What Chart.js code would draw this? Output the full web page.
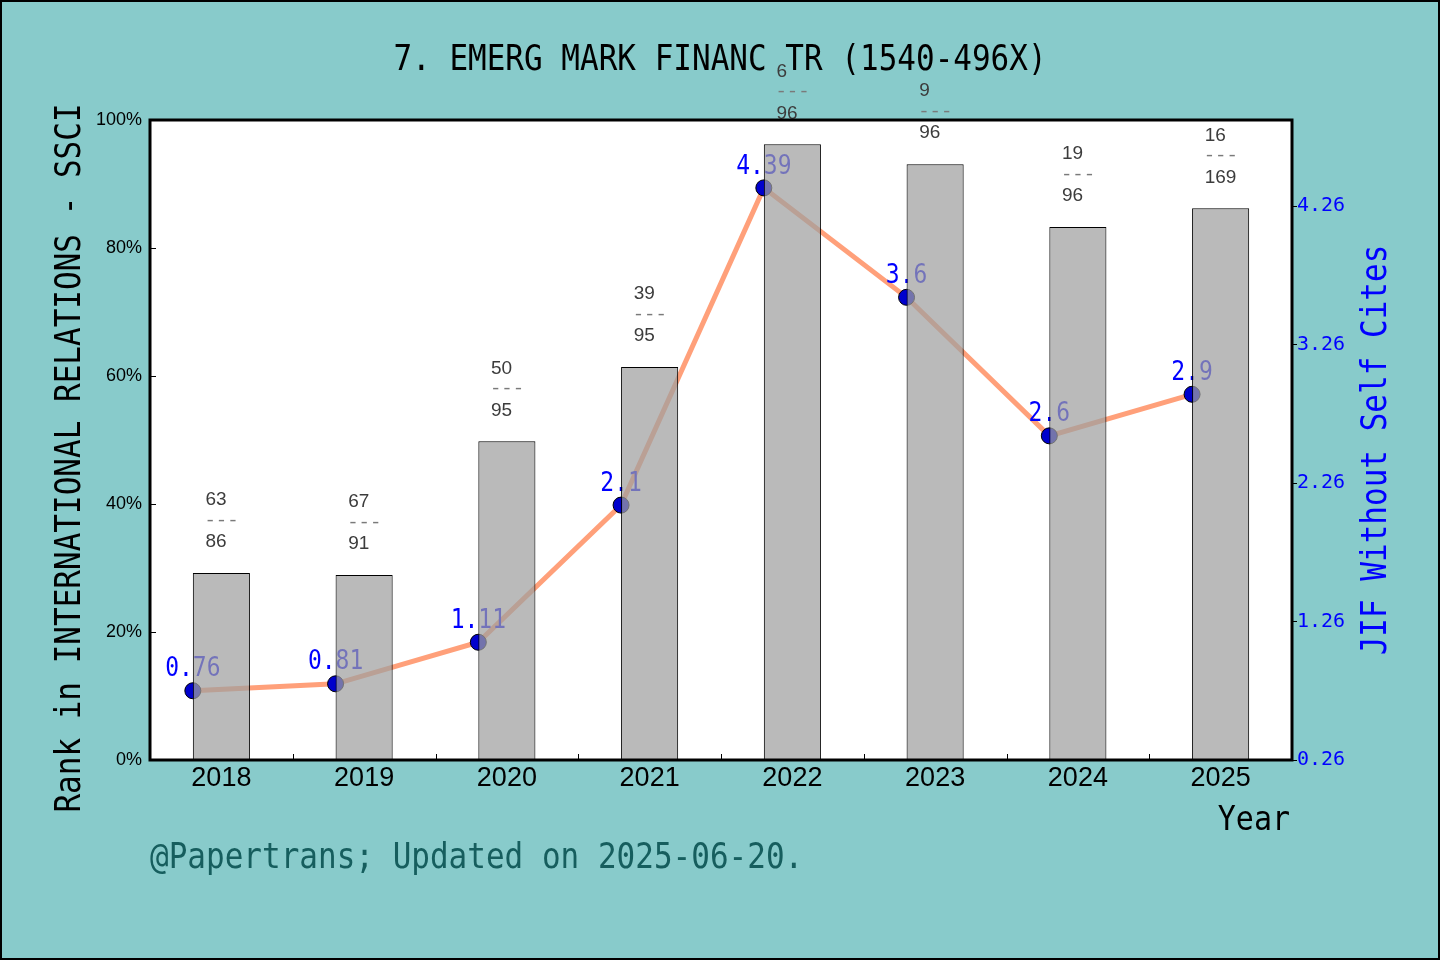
<!DOCTYPE html>
<html><head><meta charset="utf-8">
<script src="https://cdn.jsdelivr.net/npm/chart.js@4.4.1/dist/chart.umd.min.js"></script>
<style>html,body{margin:0;padding:0;background:#88cbcb;}canvas{display:block;}</style>
</head><body>
<canvas id="c" width="1440" height="960"></canvas>
<script>
// ---- data ----
const years = ['2018','2019','2020','2021','2022','2023','2024','2025'];
const rankPercent = [29.2, 28.9, 49.8, 61.4, 96.2, 93.1, 83.3, 86.2];
const rankPos = ['63','67','50','39','6','9','19','16'];
const rankTotal = ['86','91','95','95','96','96','96','169'];
const jifValues = [0.76, 0.81, 1.11, 2.1, 4.39, 3.6, 2.6, 2.9];
const jifLabels = ['0.76','0.81','1.11','2.1','4.39','3.6','2.6','2.9'];
const leftTicks = [0, 20, 40, 60, 80, 100];
const rightTicks = [0.26, 1.26, 2.26, 3.26, 4.26];
const rightRange = [0.26, 4.88];

const TITLE = '7. EMERG MARK FINANC TR (1540-496X)';
const Y_TITLE = 'Rank in INTERNATIONAL RELATIONS - SSCI';
const Y2_TITLE = 'JIF Without Self Cites';
const X_TITLE = 'Year';
const NOTE = '@Papertrans; Updated on 2025-06-20.';

const BG = '#88cbcb';
const BAR_W = 0.4;               // bar width as fraction of category
const LINE_SHIFT = -BAR_W / 2;   // line points sit at bar left edge
const MONO = '"DejaVu Sans Mono"';

function mtext(ctx, s, x, y, o) {
  const size = o.size, sy = o.sy || 1.15;
  ctx.save();
  ctx.translate(x, y);
  if (o.rot) ctx.rotate(o.rot);
  ctx.scale(1, sy);
  ctx.font = size + 'px ' + (o.family || MONO);
  ctx.fillStyle = o.color || '#000';
  ctx.textAlign = o.align || 'center';
  ctx.textBaseline = 'alphabetic';
  ctx.fillText(s, 0, 0.365 * size);
  ctx.restore();
}

const deco = {
  id: 'deco',
  beforeDraw(chart) {
    const {ctx, chartArea: a} = chart;
    ctx.save();
    ctx.fillStyle = BG;
    ctx.fillRect(0, 0, chart.width, chart.height);
    ctx.fillStyle = '#fff';
    ctx.fillRect(a.left, a.top, a.right - a.left, a.bottom - a.top);
    ctx.restore();
  },
  afterDatasetDraw(chart, args) {
    if (args.meta.type !== 'line') return;
    const ctx = chart.ctx;
    args.meta.data.forEach((pt, i) => {
      mtext(ctx, jifLabels[i], pt.x, pt.y - 24, {size: 23, color: '#0000ff'});
    });
  },
  afterDatasetsDraw(chart) {
    const ctx = chart.ctx;
    const meta = chart.getDatasetMeta(0);
    meta.data.forEach((bar, i) => {
      const lx = bar.x - 16, top = bar.y;
      ctx.save();
      ctx.font = '19px "Liberation Sans"';
      ctx.fillStyle = '#3c3c3c';
      ctx.textAlign = 'left';
      ctx.textBaseline = 'middle';
      ctx.fillText(rankPos[i], lx, top - 73);
      ctx.fillText(rankTotal[i], lx, top - 31);
      ctx.restore();
      mtext(ctx, '---', lx - 1, top - 54, {size: 19, color: '#7a7a7a', align: 'left', sy: 1, family: '"Liberation Mono"'});
    });
  },
  afterDraw(chart) {
    const {ctx, chartArea: a, scales} = chart;
    ctx.save();
    ctx.strokeStyle = '#000';
    ctx.lineWidth = 1;
    ctx.beginPath();
    leftTicks.forEach(v => { const y = Math.round(scales.y.getPixelForValue(v)) + 0.5; ctx.moveTo(a.left, y); ctx.lineTo(a.left + 6, y); });
    rightTicks.forEach(v => { const y = Math.round(scales.y1.getPixelForValue(v)) + 0.5; ctx.moveTo(a.right, y); ctx.lineTo(a.right + 5, y); });
    for (let i = 0; i < years.length - 1; i++) {
      const x = Math.round(scales.xl.getPixelForValue(i + 0.5)) + 0.5;
      ctx.moveTo(x, a.bottom); ctx.lineTo(x, a.bottom - 6);
    }
    ctx.stroke();
    ctx.lineWidth = 3;
    ctx.strokeRect(a.left, a.top, a.right - a.left, a.bottom - a.top);
    ctx.lineWidth = 2;
    ctx.strokeRect(1, 1, chart.width - 2, chart.height - 2);
    ctx.restore();

    mtext(ctx, TITLE, 720, 57, {size: 31, color: '#000'});
    mtext(ctx, Y_TITLE, 67, 458, {size: 31, color: '#000', rot: -Math.PI / 2});
    mtext(ctx, Y2_TITLE, 1373, 450, {size: 31, color: '#0000ff', rot: -Math.PI / 2});
    mtext(ctx, X_TITLE, 1290, 817, {size: 30, color: '#000', align: 'right'});
    mtext(ctx, NOTE, 150, 855, {size: 31, color: '#165e5e', align: 'left'});
  }
};

const lineData = jifValues.map((v, i) => ({x: i + LINE_SHIFT, y: v}));

new Chart(document.getElementById('c'), {
  data: {
    labels: years,
    datasets: [
      {
        type: 'bar',
        data: rankPercent,
        backgroundColor: 'rgba(160,160,160,0.72)',
        borderColor: '#000',
        borderWidth: 1,
        barPercentage: BAR_W,
        categoryPercentage: 1.0,
        grouped: false,
        xAxisID: 'x', yAxisID: 'y',
        order: 0
      },
      {
        type: 'line',
        data: lineData,
        borderColor: '#ffa07a',
        borderWidth: 5,
        pointRadius: 8,
        pointBackgroundColor: '#0000cd',
        pointBorderColor: '#000',
        pointBorderWidth: 1,
        tension: 0,
        xAxisID: 'xl', yAxisID: 'y1',
        order: 1
      }
    ]
  },
  options: {
    responsive: false,
    devicePixelRatio: 1,
    animation: false,
    layout: {padding: {top: 120, left: 0, right: 0, bottom: 0}},
    plugins: {legend: {display: false}, tooltip: {enabled: false}, title: {display: false}},
    scales: {
      x: {
        type: 'category', position: 'bottom', offset: true,
        grid: {display: false, drawTicks: false},
        border: {display: false},
        ticks: {color: '#000', font: {family: '"Liberation Sans"', size: 27}, padding: 2, maxRotation: 0},
        afterFit(s) { s.height = 200; }
      },
      xl: {
        type: 'linear', position: 'bottom', display: false,
        min: -0.5, max: years.length - 0.5
      },
      y: {
        type: 'linear', position: 'left', min: 0, max: 100,
        grid: {display: false, drawTicks: false},
        border: {display: false},
        afterBuildTicks(s) { s.ticks = leftTicks.map(v => ({value: v})); },
        ticks: {color: '#000', font: {family: '"Liberation Sans"', size: 18}, padding: 8, callback: v => v + '%'},
        afterFit(s) { s.width = 150; }
      },
      y1: {
        type: 'linear', position: 'right', min: rightRange[0], max: rightRange[1],
        grid: {display: false, drawTicks: false},
        border: {display: false},
        afterBuildTicks(s) { s.ticks = rightTicks.map(v => ({value: v})); },
        ticks: {color: '#0000ff', font: {family: MONO, size: 20}, padding: 5, callback: v => Number(v).toFixed(2)},
        afterFit(s) { s.width = 148; }
      }
    }
  },
  plugins: [deco]
});
</script>
</body></html>
